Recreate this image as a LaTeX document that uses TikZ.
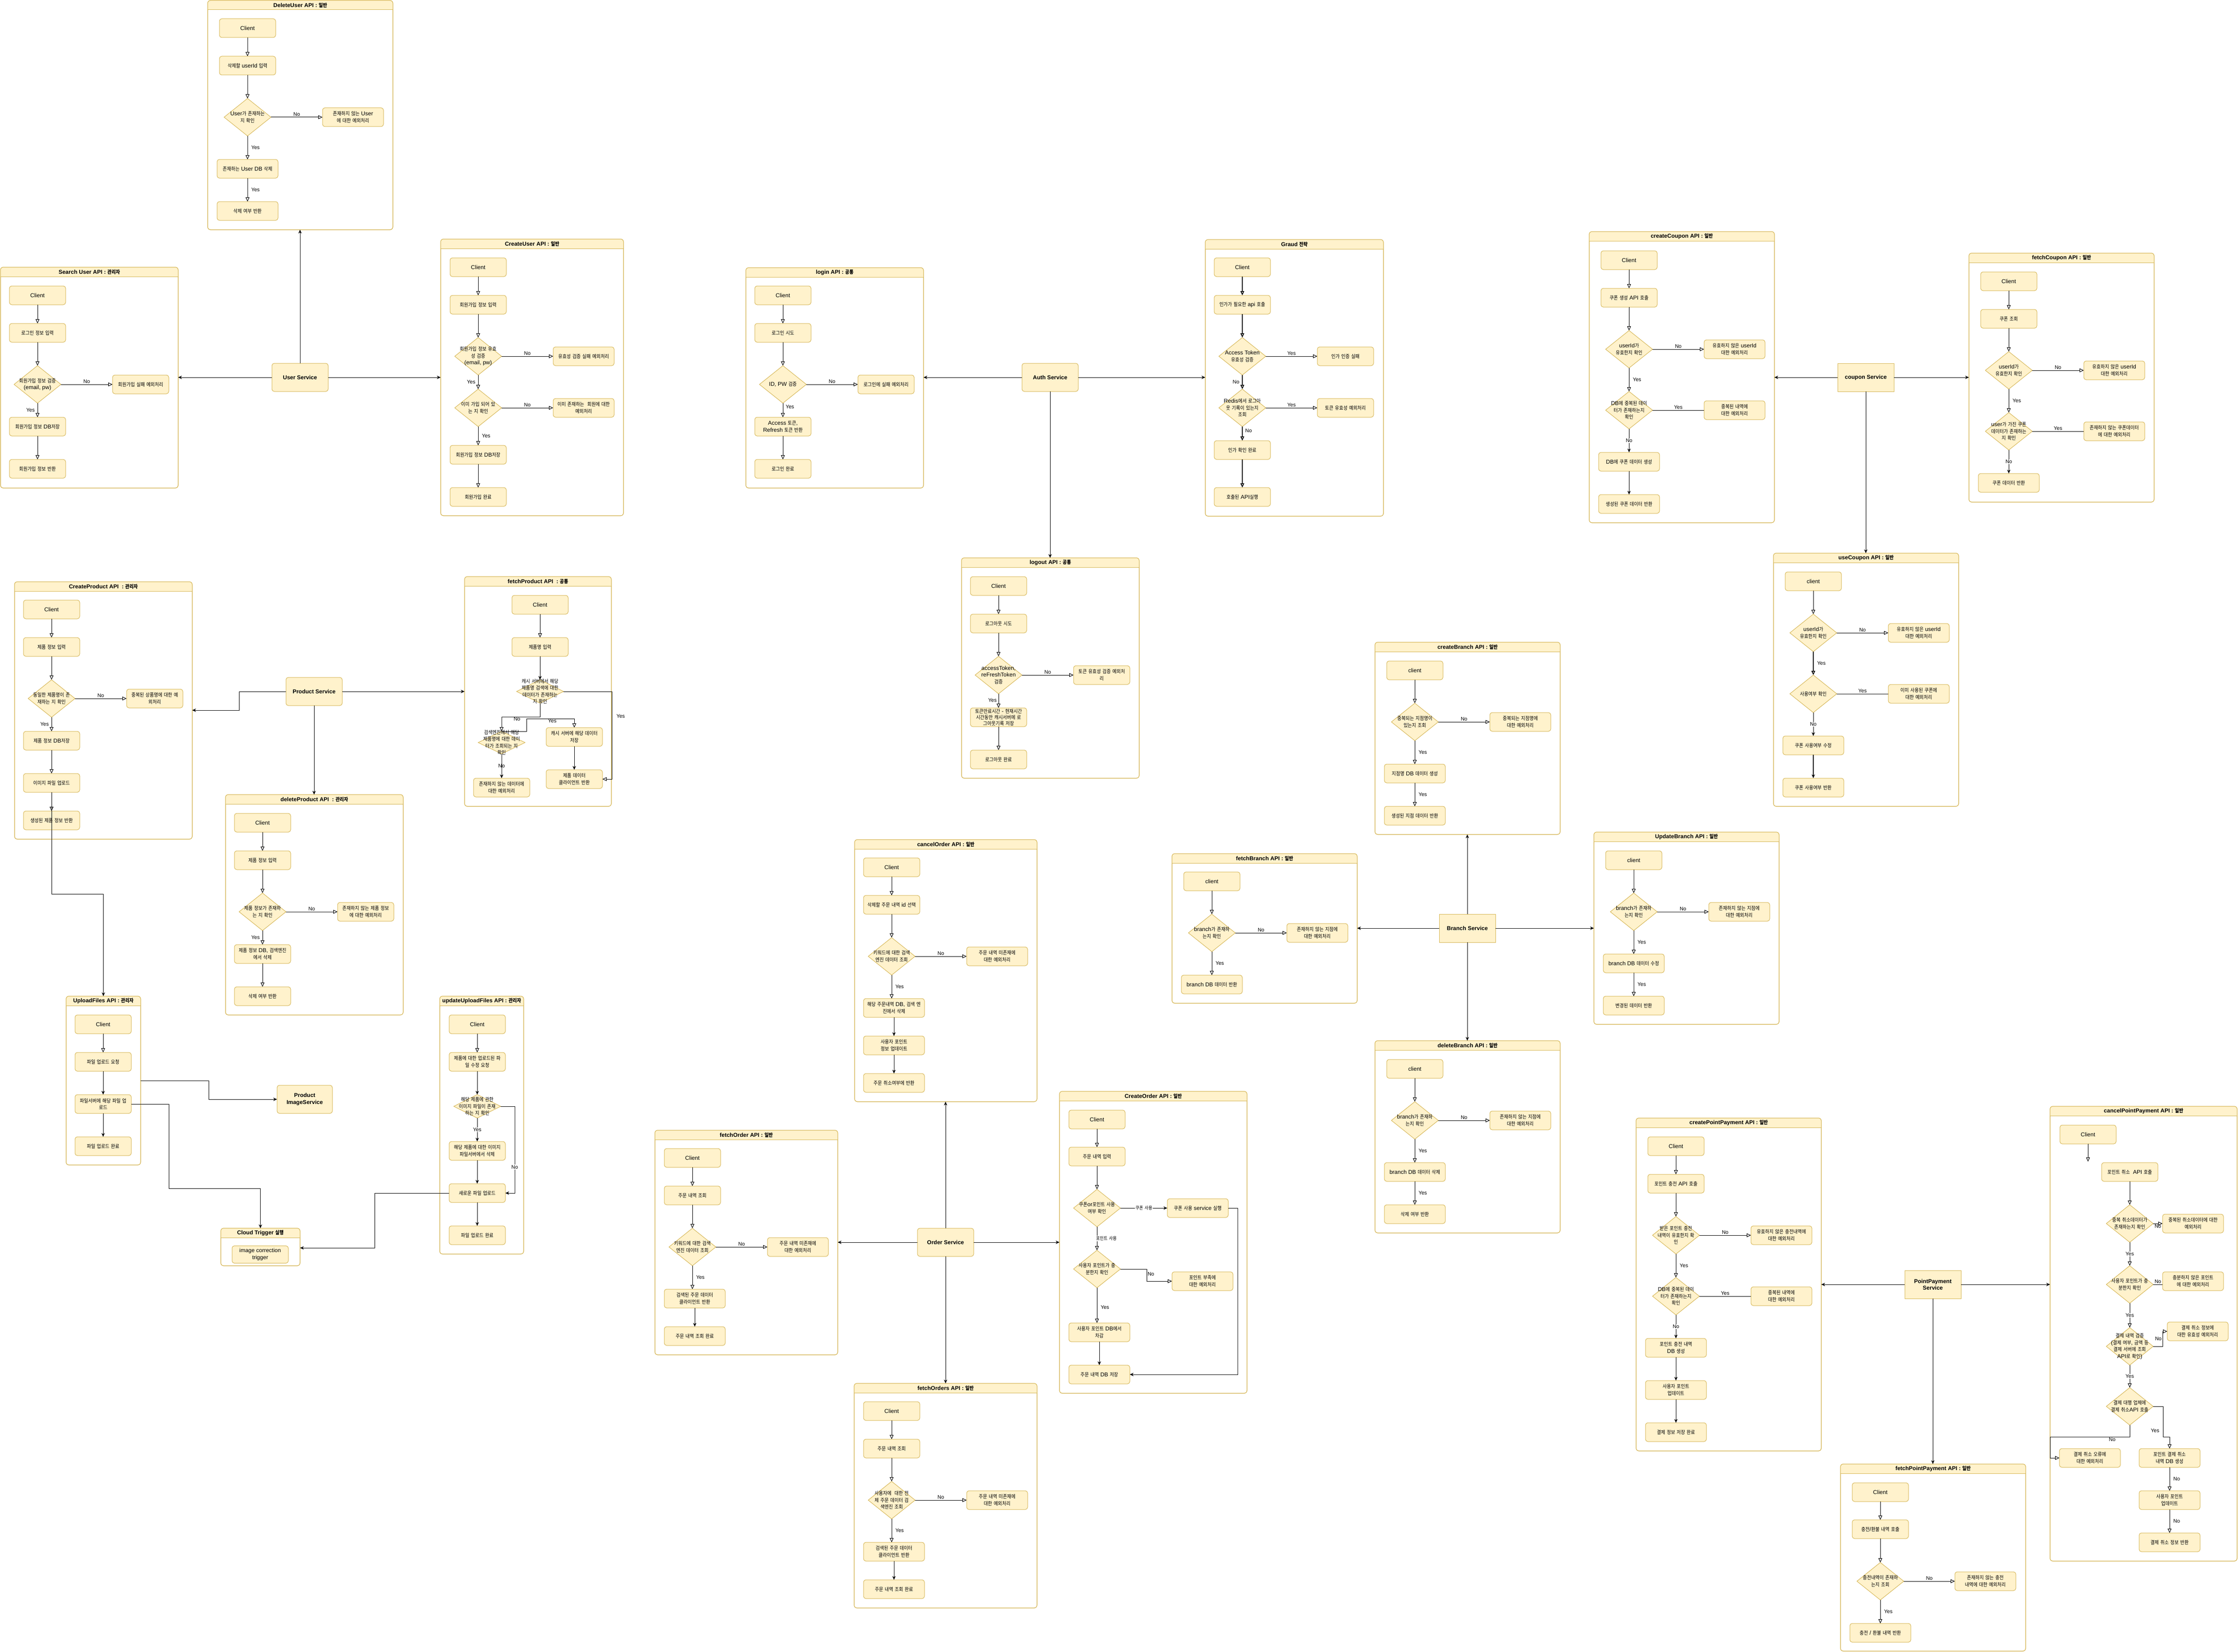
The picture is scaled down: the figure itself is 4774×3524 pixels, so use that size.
\documentclass[tikz,border=0pt]{standalone}
\usepackage{fontspec}
\setmainfont{Liberation Sans}
\newfontfamily\lafont{Liberation Sans}
\newfontfamily\krfont{Noto Sans CJK KR}[Scale=0.92,FakeStretch=0.88]
\usetikzlibrary{arrows.meta,shapes.geometric}
\XeTeXinterchartokenstate=1
\newXeTeXintercharclass\krc
\newcount\kcnt
\kcnt="AC00
\loop
  \XeTeXcharclass\kcnt=\krc
  \advance\kcnt by 1
\ifnum\kcnt<"D7A4 \repeat
\XeTeXinterchartoks 0 \krc = {\krfont}
\XeTeXinterchartoks 4095 \krc = {\krfont}
\XeTeXinterchartoks \krc 0 = {\lafont}
\XeTeXinterchartoks \krc 4095 = {\lafont}
\definecolor{yfill}{HTML}{FFF2CC}
\definecolor{ybd}{HTML}{D6B656}
\newcommand\fb{\fontsize{12}{14.5}\selectfont}
\newcommand\fl{\fontsize{11}{13}\selectfont}
\tikzset{
  box/.style={draw=ybd, fill=yfill, line width=1pt, rounded corners=5pt, minimum width=120pt, minimum height=40pt, inner sep=1pt, outer sep=0pt, align=center, font=\fb},
  bw/.style={box, minimum width=130pt},
  dia/.style={diamond, draw=ybd, fill=yfill, line width=1pt, minimum width=100pt, minimum height=80pt, inner sep=0pt, outer sep=0pt},
  dtx/.style={align=center, font=\fb, inner sep=0pt},
  svc/.style={box, font=\fb\bfseries, minimum height=60pt},
  svcsq/.style={svc, sharp corners},
  cont/.style={draw=ybd, fill=white, line width=1pt, rounded corners=6pt, inner sep=0pt, outer sep=0pt},
  ttl/.style={font=\fb\bfseries, inner sep=0pt},
  harr/.style={draw=black, line width=1pt, -{Triangle[open,length=9pt,width=8pt]}},
  farr/.style={draw=black, line width=1pt, -{Stealth[length=8pt,width=7pt,inset=2.5pt]}},
  pln/.style={draw=black, line width=1pt},
  thk/.style={line width=1.6pt},
  lab/.style={font=\fl, inner sep=1.5pt},
  olab/.style={lab, fill=white},
}
\newcommand{\apibox}[6]{%
  \node[cont, minimum width=#4pt, minimum height=#5pt, anchor=north west] (#1) at (#2,#3) {};
  \fill[yfill, rounded corners=6pt] (#2,#3) rectangle ++(#4,20);
  \fill[yfill] (#2,#3+10) rectangle ++(#4,10);
  \draw[ybd, line width=1pt] (#2,#3+20) -- ++(#4,0);
  \draw[ybd, line width=1pt, rounded corners=6pt] (#2,#3) rectangle ++(#4,#5);
  \node[ttl] (#1t) at (#2+#4/2,#3+10) {#6};}
\newcommand{\dnode}[4][]{\node[dia,#1] (#2) at (#3) {}; \node[dtx] (#2t) at (#2) {#4};}
\begin{document}
\begin{tikzpicture}[x=1pt, y=-1pt]
\useasboundingbox (0,0) rectangle (4774,3524);
\fill[white] (0,0) rectangle (4774,3524);

% ================= DeleteUser
\apibox{du}{443}{1}{395}{489}{DeleteUser API : 일반}
\node[box] (du1) at (528,60) {Client};
\node[box] (du2) at (528,140) {삭제할 userId 입력};
\dnode{du3}{528,250}{User가 존재하는\\지 확인}
\node[bw] (du4) at (753,250) {존재하지 않는 User\\에 대한 예외처리};
\node[bw] (du5) at (528,360) {존재하는 User DB 삭제};
\node[bw] (du6) at (528,450) {삭제 여부 반환};
\draw[harr] (du1.south) -- (du2.north);
\draw[harr] (du2.south) -- (du3.north);
\draw[harr] (du3.east) -- node[lab,above]{No} (du3.east -| du4.west);
\draw[harr] (du3.south) -- node[lab,right,xshift=6pt]{Yes} (du5.north);
\draw[harr] (du5.south) -- node[lab,right,xshift=6pt]{Yes} (du6.north);

% ================= Search User
\apibox{su}{1}{570}{379}{471}{Search User API : 관리자}
\node[box] (su1) at (80,630) {Client};
\node[box] (su2) at (80,710) {로그인 정보 입력};
\dnode{su3}{80,820}{회원가입 정보 검증\\(email, pw)}
\node[box] (su4) at (300,820) {회원가입 실패 예외처리};
\node[box] (su5) at (80,910) {회원가입 정보 DB저장};
\node[box] (su6) at (80,1000) {회원가입 정보 반환};
\draw[harr] (su1.south) -- (su2.north);
\draw[harr] (su2.south) -- (su3.north);
\draw[harr] (su3.east) -- node[lab,above]{No} (su3.east -| su4.west);
\draw[harr] (su3.south) -- node[lab,left,xshift=-4pt]{Yes} (su5.north);
\draw[harr] (su5.south) -- (su6.north);

% ================= CreateUser
\apibox{cu}{940}{510}{390}{590}{CreateUser API : 일반}
\node[box] (cu1) at (1020,570) {Client};
\node[box] (cu2) at (1020,650) {회원가입 정보 입력};
\dnode{cu3}{1020,760}{회원가입 정보 유효\\성 검증\\(email, pw)}
\node[bw] (cu4) at (1245,760) {유효성 검증 실패 예외처리};
\dnode{cu5}{1020,870}{이미 가입 되어 있\\는 지 확인}
\node[bw] (cu6) at (1245,870) {이미 존재하는 \ 회원에 대한\\예외처리};
\node[box] (cu7) at (1020,970) {회원가입 정보 DB저장};
\node[box] (cu8) at (1020,1060) {회원가입 완료};
\draw[harr] (cu1.south) -- (cu2.north);
\draw[harr] (cu2.south) -- (cu3.north);
\draw[harr] (cu3.east) -- node[lab,above]{No} (cu3.east -| cu4.west);
\draw[harr] (cu3.south) -- node[lab,left,xshift=-4pt]{Yes} (cu5.north);
\draw[harr] (cu5.east) -- node[lab,above]{No} (cu5.east -| cu6.west);
\draw[harr] (cu5.south) -- node[lab,right,xshift=6pt]{Yes} (cu7.north);
\draw[harr] (cu7.south) -- (cu8.north);

% ================= login
\apibox{li}{1591}{571}{379}{470}{login API : 공통}
\node[box] (li1) at (1670,630) {Client};
\node[box] (li2) at (1670,710) {로그인 시도};
\dnode{li3}{1670,820}{ID, PW 검증}
\node[box] (li4) at (1890,820) {로그인에 실패 예외처리};
\node[box] (li5) at (1670,910) {Access 토큰,\\Refresh 토큰 반환};
\node[box] (li6) at (1670,1000) {로그인 완료};
\draw[harr] (li1.south) -- (li2.north);
\draw[harr] (li2.south) -- (li3.north);
\draw[harr] (li3.east) -- node[lab,above]{No} (li3.east -| li4.west);
\draw[harr] (li3.south) -- node[lab,right,pos=0.25,xshift=4pt]{Yes} (li5.north);
\draw[harr] (li5.south) -- (li6.north);

% ================= Graud
\apibox{gr}{2571}{511}{380}{590}{Graud 전략}
\node[box] (gr1) at (2650,570) {Client};
\node[box] (gr2) at (2650,650) {인가가 필요한 api 호출};
\dnode{gr3}{2650,760}{Access Token\\유효성 검증}
\node[box] (gr4) at (2870,760) {인가 인증 실패};
\dnode{gr5}{2650,870}{Redis에서 로그아\\웃 기록이 있는지\\조회}
\node[box] (gr6) at (2870,870) {토큰 유효성 예외처리};
\node[box] (gr7) at (2650,960) {인가 확인 완료};
\node[box] (gr8) at (2650,1060) {호출된 API실행};
\draw[harr,thk] (gr1.south) -- (gr2.north);
\draw[harr,thk] (gr2.south) -- (gr3.north);
\draw[harr] (gr3.east) -- node[lab,above]{Yes} (gr3.east -| gr4.west);
\draw[harr,thk] (gr3.south) -- node[lab,left,xshift=-4pt]{No} (gr5.north);
\draw[harr] (gr5.east) -- node[lab,above]{Yes} (gr5.east -| gr6.west);
\draw[harr,thk] (gr5.south) -- node[lab,right,pos=0.3,xshift=4pt]{No} (gr7.north);
\draw[harr,thk] (gr7.south) -- (gr8.north);

% ================= logout
\apibox{lo}{2051}{1190}{379}{470}{logout API : 공통}
\node[box] (lo1) at (2130,1250) {Client};
\node[box] (lo2) at (2130,1330) {로그아웃 시도};
\dnode{lo3}{2130,1440}{accessToken,\\reFreshToken\\검증}
\node[box] (lo4) at (2350,1440) {토큰 유효성 검증 예외처\\리};
\node[box] (lo5) at (2130,1530) {};
\node[dtx, font=\fontsize{12}{13}\selectfont] (lo5t) at (lo5) {토큰만료시간 - 현재시간\\시간동안 캐시서버에 로\\그아웃기록 저장};
\node[box] (lo6) at (2130,1620) {로그아웃 완료};
\draw[harr] (lo1.south) -- (lo2.north);
\draw[harr] (lo2.south) -- (lo3.north);
\draw[harr] (lo3.east) -- node[lab,above]{No} (lo3.east -| lo4.west);
\draw[harr] (lo3.south) -- node[lab,left,pos=0.45,xshift=-2pt]{Yes} (lo5.north);
\draw[harr] (lo5.south) -- (lo6.north);

% ================= createCoupon
\apibox{cc}{3390}{494}{395}{621}{createCoupon API : 일반}
\node[box] (cc1) at (3475,555) {Client};
\node[box] (cc2) at (3475,635) {쿠폰 생성 API 호출};
\dnode{cc3}{3475,745}{userId가\\유효한지 확인}
\node[bw] (cc4) at (3700,745) {유효하지 않은 userId\\대한 예외처리};
\dnode{cc5}{3475,875}{DB에 중복된 데이\\터가 존재하는지\\확인}
\node[bw] (cc6) at (3700,875) {중복된 내역에\\대한 예외처리};
\node[bw] (cc7) at (3475,985) {DB에 쿠폰 데이터 생성};
\node[bw] (cc8) at (3475,1075) {생성된 쿠폰 데이터 반환};
\draw[harr] (cc1.south) -- (cc2.north);
\draw[harr] (cc2.south) -- (cc3.north);
\draw[harr] (cc3.east) -- node[lab,above]{No} (cc3.east -| cc4.west);
\draw[harr] (cc3.south) -- node[lab,right,xshift=6pt]{Yes} (cc5.north);
\draw[pln] (cc5.east) -- node[lab,above]{Yes} (cc5.east -| cc6.west);
\draw[farr] (cc5.south) -- node[olab]{No} (cc7.north);
\draw[farr] (cc7.south) -- (cc8.north);

% ================= fetchCoupon
\apibox{fc}{4200}{540}{395}{531}{fetchCoupon API : 일반}
\node[box] (fc1) at (4285,600) {Client};
\node[box] (fc2) at (4285,680) {쿠폰 조회};
\dnode{fc3}{4285,790}{userId가\\유효한지 확인}
\node[bw] (fc4) at (4510,790) {유효하지 않은 userId\\대한 예외처리};
\dnode{fc5}{4285,920}{user가 가진 쿠폰\\데이터가 존재하는\\지 확인}
\node[bw] (fc6) at (4510,920) {존재하지 않는 쿠폰데이터\\에 대한 예외처리};
\node[bw] (fc7) at (4285,1030) {쿠폰 데이터 반환};
\draw[harr] (fc1.south) -- (fc2.north);
\draw[harr] (fc2.south) -- (fc3.north);
\draw[harr] (fc3.east) -- node[lab,above]{No} (fc3.east -| fc4.west);
\draw[harr] (fc3.south) -- node[lab,right,xshift=6pt]{Yes} (fc5.north);
\draw[pln] (fc5.east) -- node[lab,above]{Yes} (fc5.east -| fc6.west);
\draw[farr] (fc5.south) -- node[olab]{No} (fc7.north);

% ================= useCoupon
\apibox{uc}{3783}{1180}{395}{540}{useCoupon API : 일반}
\node[box] (uc1) at (3868,1240) {client};
\dnode{uc2}{3868,1350}{userId가\\유효한지 확인}
\node[bw] (uc3) at (4093,1350) {유효하지 않은 userId\\대한 예외처리};
\dnode{uc4}{3868,1480}{사용여부 확인}
\node[bw] (uc5) at (4093,1480) {이미 사용된 쿠폰에\\대한 예외처리};
\node[bw] (uc6) at (3868,1590) {쿠폰 사용여부 수정};
\node[bw] (uc7) at (3868,1680) {쿠폰 사용여부 반환};
\draw[harr] (uc1.south) -- (uc2.north);
\draw[harr] (uc2.east) -- node[lab,above]{No} (uc2.east -| uc3.west);
\draw[harr,thk] (uc2.south) -- node[lab,right,xshift=6pt]{Yes} (uc4.north);
\draw[pln] (uc4.east) -- node[lab,above]{Yes} (uc4.east -| uc5.west);
\draw[farr] (uc4.south) -- node[olab]{No} (uc6.north);
\draw[farr,thk] (uc6.south) -- (uc7.north);

% ================= CreateProduct
\apibox{cp}{31}{1241}{379}{549}{CreateProduct API~ : 관리자}
\node[box] (cp1) at (110,1300) {Client};
\node[box] (cp2) at (110,1380) {제품 정보 입력};
\dnode{cp3}{110,1490}{동일한 제품명이 존\\재하는 지 확인}
\node[box] (cp4) at (330,1490) {중복된 상품명에 대한 예\\외처리};
\node[box] (cp5) at (110,1580) {제품 정보 DB저장};
\node[box] (cp6) at (110,1670) {이미지 파일 업로드};
\node[box] (cp7) at (110,1750) {생성된 제품 정보 반환};
\draw[harr] (cp1.south) -- (cp2.north);
\draw[harr] (cp2.south) -- (cp3.north);
\draw[harr] (cp3.east) -- node[lab,above]{No} (cp3.east -| cp4.west);
\draw[harr] (cp3.south) -- node[lab,left,xshift=-4pt]{Yes} (cp5.north);
\draw[harr] (cp5.south) -- (cp6.north);
\draw[harr] (cp6.south) -- (cp7.north);

% ================= fetchProduct
\apibox{fp}{991}{1230}{313}{490}{fetchProduct API~ : 공통}
\node[box] (fp1) at (1152,1290) {Client};
\node[box] (fp2) at (1152,1380) {제품명 입력};
\dnode[minimum height=50pt]{fp3}{1152,1475}{캐시 서버에서 해당\\제품명 검색에 대한\\데이터가 존재하는\\지 확인}
\dnode[minimum height=48pt]{fp4}{1070,1584}{검색엔진에서 해당\\제품명에 대한 데이\\터가 조회되는 지\\확인}
\node[box] (fp5) at (1225,1572) {캐시 서버에 해당 데이터\\저장};
\node[box] (fp6) at (1225,1662) {제품 데이터\\클라이언트 반환};
\node[box] (fp7) at (1070,1680) {존재하지 않는 데이터에\\대한 예외처리};
\draw[harr] (fp1.south) -- (fp2.north);
\draw[farr] (fp2.south) -- (fp3.north);
\draw[harr] (fp3.east) -- ++(103,0) |- node[lab,pos=0.14,right,xshift=8pt]{Yes} (fp6.east);
\draw[harr] (fp3.south) -- ++(0,29) -| node[lab,pos=0.3,below,inner sep=0.5pt]{No} (fp4.north);
\draw[harr] (fp4.north) -- ++(53,0) -- ++(0,-27) -| node[lab,pos=0.27,below,inner sep=0.5pt]{Yes} (fp5.north);
\draw[farr] (fp4.south) -- node[lab]{No} (fp4.south |- fp7.north);
\draw[farr] (fp5.south) -- (fp6.north);

% ================= deleteProduct
\apibox{dp}{481}{1695}{379}{470}{deleteProduct API~ : 관리자}
\node[box] (dp1) at (560,1755) {Client};
\node[box] (dp2) at (560,1835) {제품 정보 입력};
\dnode{dp3}{560,1945}{제품 정보가 존재하\\는 지 확인}
\node[box] (dp4) at (780,1945) {존재하지 않는 제품 정보\\에 대한 예외처리};
\node[box] (dp5) at (560,2035) {제품 정보 DB, 검색엔진\\에서 삭제};
\node[box] (dp6) at (560,2125) {삭제 여부 반환};
\draw[harr] (dp1.south) -- (dp2.north);
\draw[harr] (dp2.south) -- (dp3.north);
\draw[harr] (dp3.east) -- node[lab,above]{No} (dp3.east -| dp4.west);
\draw[harr] (dp3.south) -- node[lab,left,xshift=-4pt]{Yes} (dp5.north);
\draw[harr] (dp5.south) -- (dp6.north);

% ================= UploadFiles
\apibox{uf}{141}{2125}{159}{360}{UploadFiles API : 관리자}
\node[box] (uf1) at (220,2185) {Client};
\node[box] (uf2) at (220,2265) {파일 업로드 요청};
\node[box] (uf3) at (220,2355) {파일서버에 해당 파일 업\\로드};
\node[box] (uf4) at (220,2445) {파일 업로드 완료};
\draw[harr] (uf1.south) -- (uf2.north);
\draw[farr] (uf2.south) -- (uf3.north);
\draw[farr] (uf3.south) -- (uf4.north);

\node[svc, minimum width=118pt] (pis) at (650,2345) {Product\\ImageService};

% ================= Cloud Trigger
\apibox{ct}{471}{2620}{169}{80}{Cloud Trigger 실행}
\node[box, minimum height=37pt] (ct1) at (555,2676) {image correction\\trigger};

% ================= updateUploadFiles
\apibox{uu}{938}{2125}{179}{550}{updateUploadFiles API : 관리자}
\node[box] (uu1) at (1018,2185) {Client};
\node[box] (uu2) at (1018,2265) {제품에 대한 업로드된 파\\일 수정 요청};
\dnode[minimum height=50pt]{uu3}{1018,2360}{해당 제품에 관한\\이미지 파일이 존재\\하는 지 확인}
\node[box] (uu4) at (1018,2455) {해당 제품에 대한 이미지\\파일서버에서 삭제};
\node[box] (uu5) at (1018,2545) {새로운 파일 업로드};
\node[box] (uu6) at (1018,2635) {파일 업로드 완료};
\draw[harr] (uu1.south) -- (uu2.north);
\draw[farr] (uu2.south) -- (uu3.north);
\draw[farr] (uu3.south) -- node[olab]{Yes} (uu4.north);
\draw[farr] (uu3.east) -- (1098,2360) |- node[olab,pos=0.35]{No} (uu5.east);
\draw[farr] (uu4.south) -- (uu5.north);
\draw[farr] (uu5.south) -- (uu6.north);

% ================= cancelOrder
\apibox{co}{1823}{1791}{389}{559}{cancelOrder API : 일반}
\node[box] (co1) at (1902,1850) {Client};
\node[box] (co2) at (1902,1930) {삭제할 주문 내역 id 선택};
\dnode{co3}{1902,2040}{키워드에 대한 검색\\엔진 데이터 조회}
\node[bw] (co4) at (2127,2040) {주문 내역 미존재에\\대한 예외처리};
\node[bw] (co5) at (1907,2150) {해당 주문내역 DB, 검색 엔\\진에서 삭제};
\node[bw] (co6) at (1907,2230) {사용자 포인트\\정보 업데이트};
\node[bw] (co7) at (1907,2310) {주문 취소여부에 반환};
\draw[harr] (co1.south) -- (co2.north);
\draw[harr] (co2.south) -- (co3.north);
\draw[harr] (co3.east) -- node[lab,above]{No} (co3.east -| co4.west);
\draw[harr] (co3.south) -- node[lab,right,xshift=6pt]{Yes} (co3.south |- co5.north);
\draw[farr] (co5.south) -- (co6.north);
\draw[farr] (co6.south) -- (co7.north);

% ================= fetchOrder
\apibox{fo}{1397}{2411}{390}{479}{fetchOrder API : 일반}
\node[box] (fo1) at (1477,2470) {Client};
\node[box] (fo2) at (1477,2550) {주문 내역 조회};
\dnode{fo3}{1477,2660}{키워드에 대한 검색\\엔진 데이터 조회}
\node[bw] (fo4) at (1702,2660) {주문 내역 미존재에\\대한 예외처리};
\node[bw] (fo5) at (1482,2770) {검색된 주문 데이터\\클라이언트 반환};
\node[bw] (fo6) at (1482,2850) {주문 내역 조회 완료};
\draw[harr] (fo1.south) -- (fo2.north);
\draw[harr] (fo2.south) -- (fo3.north);
\draw[harr] (fo3.east) -- node[lab,above]{No} (fo3.east -| fo4.west);
\draw[harr] (fo3.south) -- node[lab,right,xshift=6pt]{Yes} (fo3.south |- fo5.north);
\draw[farr] (fo5.south) -- (fo6.north);

% ================= CreateOrder
\apibox{cr}{2260}{2328}{400}{644}{CreateOrder API : 일반}
\node[box] (cr1) at (2340,2388) {Client};
\node[box] (cr2) at (2340,2467) {주문 내역 입력};
\dnode{cr3}{2340,2577}{쿠폰or포인트 사용\\여부 확인}
\node[bw] (cr4) at (2555,2577) {쿠폰 사용 service 실행};
\dnode{cr5}{2340,2707}{사용자 포인트가 충\\분한지 확인}
\node[bw] (cr6) at (2565,2733) {포인트 부족에\\대한 예외처리};
\node[bw] (cr7) at (2345,2842) {사용자 포인트 DB에서\\차감};
\node[bw] (cr8) at (2345,2932) {주문 내역 DB 저장};
\draw[harr] (cr1.south) -- (cr2.north);
\draw[harr] (cr2.south) -- (cr3.north);
\draw[farr] (cr3.east) -- node[olab]{쿠폰 사용} (cr3.east -| cr4.west);
\draw[harr] (cr3.south) -- node[olab,xshift=20pt]{포인트 사용} (cr5.north);
\draw[harr] (cr5.east) -- (2446,2707) |- node[lab,pos=0.2,right]{No} (cr6.west);
\draw[harr] (cr5.south) -- node[lab,right,pos=0.55,xshift=6pt]{Yes} (cr5.south |- cr7.north);
\draw[farr] (cr7.south) -- (cr8.north);
\draw[farr] (cr4.east) -- (2640,2577) |- (cr8.east);

% ================= fetchOrders
\apibox{fs}{1822}{2951}{390}{479}{fetchOrders API : 일반}
\node[box] (fs1) at (1902,3010) {Client};
\node[box] (fs2) at (1902,3090) {주문 내역 조회};
\dnode{fs3}{1902,3200}{사용자에 \ 대한 전\\체 주문 데이터 검\\색엔진 조회}
\node[bw] (fs4) at (2127,3200) {주문 내역 미존재에\\대한 예외처리};
\node[bw] (fs5) at (1907,3310) {검색된 주문 데이터\\클라이언트 반환};
\node[bw] (fs6) at (1907,3390) {주문 내역 조회 완료};
\draw[harr] (fs1.south) -- (fs2.north);
\draw[harr] (fs2.south) -- (fs3.north);
\draw[harr] (fs3.east) -- node[lab,above]{No} (fs3.east -| fs4.west);
\draw[harr] (fs3.south) -- node[lab,right,xshift=6pt]{Yes} (fs3.south |- fs5.north);
\draw[farr] (fs5.south) -- (fs6.north);

% ================= createBranch
\apibox{cb}{2933}{1370}{395}{410}{createBranch API : 일반}
\node[box] (cb1) at (3018,1430) {client};
\dnode{cb2}{3018,1540}{중복되는 지점명이\\있는지 조회}
\node[bw] (cb3) at (3243,1540) {중복되는 지점명에\\대한 예외처리};
\node[bw] (cb4) at (3018,1650) {지점명 DB 데이터 생성};
\node[bw] (cb5) at (3018,1740) {생성된 지점 데이터 반환};
\draw[harr] (cb1.south) -- (cb2.north);
\draw[harr] (cb2.east) -- node[lab,above]{No} (cb2.east -| cb3.west);
\draw[harr] (cb2.south) -- node[lab,right,xshift=6pt]{Yes} (cb4.north);
\draw[harr] (cb4.south) -- node[lab,right,xshift=6pt]{Yes} (cb5.north);

% ================= fetchBranch
\apibox{fb}{2500}{1821}{395}{319}{fetchBranch API : 일반}
\node[box] (fb1) at (2585,1880) {client};
\dnode{fb2}{2585,1990}{branch가 존재하\\는지 확인}
\node[bw] (fb3) at (2810,1990) {존재하지 않는 지점에\\대한 예외처리};
\node[bw] (fb4) at (2585,2100) {branch DB 데이터 반환};
\draw[harr] (fb1.south) -- (fb2.north);
\draw[harr] (fb2.east) -- node[lab,above]{No} (fb2.east -| fb3.west);
\draw[harr] (fb2.south) -- node[lab,right,xshift=6pt]{Yes} (fb4.north);

% ================= UpdateBranch
\apibox{ub}{3400}{1775}{395}{410}{UpdateBranch API : 일반}
\node[box] (ub1) at (3485,1835) {client};
\dnode{ub2}{3485,1945}{branch가 존재하\\는지 확인}
\node[bw] (ub3) at (3710,1945) {존재하지 않는 지점에\\대한 예외처리};
\node[bw] (ub4) at (3485,2055) {branch DB 데이터 수정};
\node[bw] (ub5) at (3485,2145) {변경된 데이터 반환};
\draw[harr] (ub1.south) -- (ub2.north);
\draw[harr] (ub2.east) -- node[lab,above]{No} (ub2.east -| ub3.west);
\draw[harr] (ub2.south) -- node[lab,right,xshift=6pt]{Yes} (ub4.north);
\draw[harr] (ub4.south) -- node[lab,right,xshift=6pt]{Yes} (ub5.north);

% ================= deleteBranch
\apibox{db}{2933}{2220}{395}{410}{deleteBranch API : 일반}
\node[box] (db1) at (3018,2280) {client};
\dnode{db2}{3018,2390}{branch가 존재하\\는지 확인}
\node[bw] (db3) at (3243,2390) {존재하지 않는 지점에\\대한 예외처리};
\node[bw] (db4) at (3018,2500) {branch DB 데이터 삭제};
\node[bw] (db5) at (3018,2590) {삭제 여부 반환};
\draw[harr] (db1.south) -- (db2.north);
\draw[harr] (db2.east) -- node[lab,above]{No} (db2.east -| db3.west);
\draw[harr] (db2.south) -- node[lab,right,xshift=6pt]{Yes} (db4.north);
\draw[harr] (db4.south) -- node[lab,right,xshift=6pt]{Yes} (db5.north);

% ================= createPointPayment
\apibox{pp}{3490}{2385}{395}{710}{createPointPayment API : 일반}
\node[box] (pp1) at (3575,2445) {Client};
\node[box] (pp2) at (3575,2525) {포인트 충전 API 호출};
\dnode{pp3}{3575,2635}{받은 포인트 충전\\내역이 유효한지 확\\인}
\node[bw] (pp4) at (3800,2635) {유효하지 않은 충전내역에\\대한 예외처리};
\dnode{pp5}{3575,2765}{DB에 중복된 데이\\터가 존재하는지\\확인}
\node[bw] (pp6) at (3800,2765) {중복된 내역에\\대한 예외처리};
\node[bw] (pp7) at (3575,2875) {포인트 충전 내역\\DB 생성};
\node[bw] (pp8) at (3575,2965) {사용자 포인트\\업데이트};
\node[bw] (pp9) at (3575,3055) {결제 정보 저장 완료};
\draw[harr] (pp1.south) -- (pp2.north);
\draw[harr] (pp2.south) -- (pp3.north);
\draw[harr] (pp3.east) -- node[lab,above]{No} (pp3.east -| pp4.west);
\draw[harr] (pp3.south) -- node[lab,right,xshift=6pt]{Yes} (pp5.north);
\draw[pln] (pp5.east) -- node[lab,above]{Yes} (pp5.east -| pp6.west);
\draw[farr] (pp5.south) -- node[olab]{No} (pp7.north);
\draw[farr] (pp7.south) -- (pp8.north);
\draw[farr] (pp8.south) -- (pp9.north);

% ================= fetchPointPayment
\apibox{fpp}{3926}{3123}{395}{399}{fetchPointPayment API : 일반}
\node[box] (fpp1) at (4011,3183) {Client};
\node[box] (fpp2) at (4011,3262) {충전/환불 내역 호출};
\dnode{fpp3}{4011,3373}{충전내역이 존재하\\는지 조회}
\node[bw] (fpp4) at (4235,3373) {존재하지 않는 충전\\내역에 대한 예외처리};
\node[bw] (fpp5) at (4011,3483) {충전 / 환불 내역 반환};
\draw[harr] (fpp1.south) -- (fpp2.north);
\draw[harr] (fpp2.south) -- (fpp3.north);
\draw[harr] (fpp3.east) -- node[lab,above]{No} (fpp3.east -| fpp4.west);
\draw[harr] (fpp3.south) -- node[lab,right,xshift=6pt]{Yes} (fpp5.north);

% ================= cancelPointPayment
\apibox{xp}{4373}{2360}{399}{970}{cancelPointPayment API : 일반}
\node[box] (xp1) at (4454,2420) {Client};
\coordinate (xpa) at (4454,2478);
\node[box] (xp2) at (4543,2500) {포인트 취소 \ API 호출};
\dnode{xp3}{4543,2610}{중복 취소데이터가\\존재하는지 확인}
\node[bw] (xp4) at (4678,2610) {중복된 취소데이터에 대한\\예외처리};
\dnode{xp5}{4543,2740}{사용자 포인트가 충\\분한지 확인}
\node[bw] (xp6) at (4678,2733) {충분하지 않은 포인트\\에 대한 예외처리};
\dnode{xp7}{4543,2872}{결제 내역 검증\\(결제 여부, 금액 등\\결제 서버에 조회\\API로 확인)}
\node[bw] (xp8) at (4688,2840) {결제 취소 정보에\\대한 유효성 예외처리};
\dnode{xp9}{4543,3000}{결제 대행 업체에\\결제 취소API 호출}
\node[bw] (xp10) at (4458,3110) {결제 취소 오류에\\대한 예외처리};
\node[bw] (xp11) at (4628,3110) {포인트 결제 취소\\내역 DB 생성};
\node[bw] (xp12) at (4628,3200) {사용자 포인트\\업데이트};
\node[bw] (xp13) at (4628,3290) {결제 취소 정보 반환};
\draw[harr] (xp1.south) -- (xpa);
\draw[harr] (xp2.south) -- (xp3.north);
\draw[harr] (xp3.east) -- node[lab,below]{No} (xp3.east -| xp4.west);
\draw[harr] (xp3.south) -- node[olab]{Yes} (xp5.north);
\draw[pln] (xp5.east) -- node[lab,above]{No} (xp5.east -| xp6.west);
\draw[harr] (xp5.south) -- node[olab]{Yes} (xp7.north);
\draw[harr] (xp7.east) -- ++(20,0) |- node[lab,pos=0.25,left]{No} (xp8.west);
\draw[harr] (xp7.south) -- node[olab]{Yes} (xp9.north);
\draw[harr] (xp9.south) -- ++(0,25) -| node[lab,pos=0.11,below]{No} (xp.west |- xp10.west) -- (xp10.west);
\draw[harr] (xp9.east) -- ++(21,0) |- node[lab,pos=0.4,left,xshift=-6pt]{Yes} (xp11.north |- 0,3065) -- (xp11.north);
\draw[harr] (xp11.south) -- node[lab,right,xshift=6pt]{No} (xp12.north);
\draw[harr] (xp12.south) -- node[lab,right,xshift=6pt]{No} (xp13.north);

% ================= Services
\node[svc] (us) at (640,805) {User Service};
\draw[farr] (us.north) -- (us.north |- du.south);
\draw[farr] (us.west) -- (us.west -| su.east);
\draw[farr] (us.east) -- (us.east -| cu.west);

\node[svc] (as) at (2240,805) {Auth Service};
\draw[farr] (as.west) -- (as.west -| li.east);
\draw[farr] (as.east) -- (as.east -| gr.west);
\draw[farr] (as.south) -- (as.south |- lo.north);

\node[svcsq] (cs) at (3980,805) {coupon Service};
\draw[farr] (cs.west) -- (cs.west -| cc.east);
\draw[farr] (cs.east) -- (cs.east -| fc.west);
\draw[farr] (cs.south) -- (cs.south |- uc.north);

\node[svc] (ps) at (670,1475) {Product Service};
\coordinate (pj) at (510,1515);
\draw[farr] (ps.west) -| (pj) -- (pj -| cp.east);
\draw[farr] (ps.east) -- (ps.east -| fp.west);
\draw[farr] (ps.south) -- (ps.south |- dp.north);
\draw[farr] (cp6.south) -- ++(0,217) -| (uf.north);

\draw[farr] (uf.east |- 0,2305) -- (445,2305) |- (pis.west);
\draw[farr] (uf3.east) -| (360,2535) -| (ct.north);
\draw[farr] (uu5.west) -- (799,2545) |- (ct.east |- 0,2662);

\node[svc] (os) at (2017,2650) {Order Service};
\draw[farr] (os.north) -- (os.north |- co.south);
\draw[farr] (os.west) -- (os.west -| fo.east);
\draw[farr] (os.east) -- (os.east -| cr.west);
\draw[farr] (os.south) -- (os.south |- fs.north);

\node[svcsq] (bs) at (3130,1980) {Branch Service};
\draw[farr] (bs.north) -- (bs.north |- cb.south);
\draw[farr] (bs.west) -- (bs.west -| fb.east);
\draw[farr] (bs.east) -- (bs.east -| ub.west);
\draw[farr] (bs.south) -- (bs.south |- db.north);

\node[svcsq] (pps) at (4123,2740) {PointPayment\\Service};
\draw[farr] (pps.west) -- (pps.west -| pp.east);
\draw[farr] (pps.east) -- (pps.east -| xp.west);
\draw[farr] (pps.south) -- (pps.south |- fpp.north);
\end{tikzpicture}
\end{document}
